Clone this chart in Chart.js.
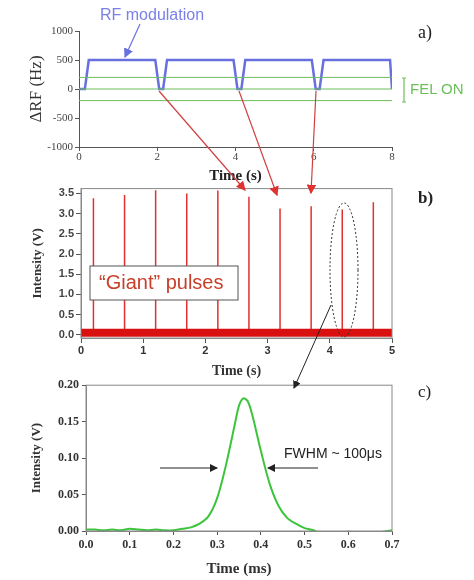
<!DOCTYPE html>
<html><head><meta charset="utf-8">
<script src="https://cdn.jsdelivr.net/npm/chart.js@4"></script>
<style>
body{margin:0;background:#fff;width:474px;height:580px;position:relative;overflow:hidden}
.c{position:absolute;left:0;width:474px}
.t{position:absolute;white-space:nowrap}
svg{position:absolute;left:0;top:0}
</style></head><body>
<div class="c" style="top:0;height:185px"><canvas id="ca"></canvas></div>
<div class="c" style="top:180px;height:200px"><canvas id="cb"></canvas></div>
<div class="c" style="top:375px;height:205px"><canvas id="cc"></canvas></div>
<script>
// Panel a
const rfTime=[0,0.15,0.25,1.95,2.05,2.15,2.25,3.95,4.05,4.15,4.25,5.95,6.05,6.15,6.25,7.95,8];
const rfValue=[0,0,500,500,0,0,500,500,0,0,500,500,0,0,500,500,0];
const felLevels=[200,0,-200];
const aTicks=[-1000,-500,0,500,1000];
// Panel b
const pulseTimes=[0.2,0.7,1.2,1.7,2.2,2.7,3.2,3.7,4.2,4.7];
const pulseHeights=[3.38,3.46,3.58,3.5,3.57,3.42,3.13,3.18,3.1,3.28];
const noiseBand=[0.05,0.05];
const bTicks=[0,0.5,1,1.5,2,2.5,3,3.5];
// Panel c
const cTime=[0,0.02,0.04,0.06,0.08,0.1,0.12,0.14,0.16,0.18,0.2,0.22,0.24,0.26,0.28,0.3,0.32,0.34,0.35,0.36,0.37,0.38,0.4,0.42,0.44,0.46,0.48,0.5,0.52,0.54,0.56,0.58,0.6,0.62,0.64,0.66,0.68,0.7];
const cIntensity=[0.002,0.002,0.001,0.002,0.001,0.003,0.002,0.001,0.002,0.001,0.001,0.003,0.005,0.01,0.02,0.045,0.09,0.145,0.172,0.182,0.178,0.16,0.11,0.065,0.035,0.018,0.01,0.004,0.001,-0.004,-0.002,-0.002,-0.001,-0.002,-0.003,-0.002,-0.001,0.001];

Chart.defaults.animation=false;
Chart.defaults.plugins.legend.display=false;
Chart.defaults.plugins.tooltip.enabled=false;
Chart.defaults.maintainAspectRatio=false;
const boxPlugin={id:'box',afterDraw(ch){const a=ch.chartArea,c=ch.ctx;c.save();c.strokeStyle='#888';c.lineWidth=1;c.strokeRect(a.left,a.top,a.right-a.left,a.bottom-a.top);c.restore();}};
function fit(w){return s=>{s.width=w;};}
function fitH(h){return s=>{s.height=h;};}
const serif='"Liberation Serif", "DejaVu Serif", serif';
const sans='"Liberation Sans", Arial, sans-serif';

new Chart(document.getElementById('ca'),{type:'scatter',data:{datasets:[
 ...felLevels.map(v=>({data:[{x:0,y:v},{x:8,y:v}],showLine:true,borderColor:'#6cbf5a',borderWidth:1,pointRadius:0})),
 {data:rfTime.map((t,i)=>({x:t,y:rfValue[i]})),showLine:true,borderColor:'#6870e0',borderWidth:2.5,pointRadius:0}
]},options:{layout:{padding:{top:31,right:82,left:26,bottom:0}},
scales:{x:{type:'linear',min:0,max:8,afterFit:fitH(38),ticks:{stepSize:2,color:'#444',font:{family:serif,size:11},padding:0},grid:{drawOnChartArea:false,tickLength:4,color:'#555'},border:{color:'#555'},
 title:{display:true,text:'Time (s)',font:{family:serif,size:15,weight:'bold'},color:'#222',padding:0}},
 y:{min:-1000,max:1000,afterFit:fit(53),afterBuildTicks:s=>{s.ticks=aTicks.map(v=>({value:v}));},ticks:{color:'#444',font:{family:serif,size:11},padding:2,callback:v=>String(v)},grid:{drawOnChartArea:false,tickLength:4,color:'#555'},border:{color:'#555'},
 title:{display:true,text:'ΔRF (Hz)',font:{family:serif,size:17},color:'#333',padding:0}}}}});

const pulseData=[];pulseTimes.forEach((t,i)=>{pulseData.push({x:t,y:0},{x:t,y:pulseHeights[i]},{x:t,y:null});});
new Chart(document.getElementById('cb'),{type:'scatter',data:{datasets:[
 {data:[{x:0,y:noiseBand[0]},{x:5,y:noiseBand[1]}],showLine:true,borderColor:'#d81010',borderWidth:8,pointRadius:0},
 {data:pulseData,showLine:true,spanGaps:false,borderColor:'#e03030',borderWidth:1.5,pointRadius:0}
]},options:{layout:{padding:{top:7,right:82,left:30,bottom:0}},
scales:{x:{type:'linear',min:0,max:5,afterFit:fitH(42),ticks:{stepSize:1,color:'#333',font:{family:sans,size:11,weight:'bold'},padding:1},grid:{drawOnChartArea:false,tickLength:5,color:'#555'},border:{color:'#888'},
 title:{display:true,text:'Time (s)',font:{family:serif,size:14,weight:'bold'},color:'#333',padding:0}},
 y:{min:-0.08,max:3.62,afterFit:fit(51),ticks:{color:'#444',font:{family:sans,size:11,weight:'bold'},padding:2,callback:v=>Number(v).toFixed(1)},afterBuildTicks:s=>{s.ticks=bTicks.map(v=>({value:v}));},grid:{drawOnChartArea:false,tickLength:5,color:'#555'},border:{color:'#888'},
 title:{display:true,text:'Intensity (V)',font:{family:serif,size:13,weight:'bold'},color:'#333',padding:0}}}},plugins:[boxPlugin]});

new Chart(document.getElementById('cc'),{type:'scatter',data:{datasets:[
 {data:cTime.map((t,i)=>({x:t,y:cIntensity[i]})),showLine:true,borderColor:'#3cc43c',borderWidth:2,pointRadius:0,tension:0.3}
]},options:{layout:{padding:{top:10,right:82,left:29,bottom:0}},
scales:{x:{type:'linear',min:0,max:0.7,afterFit:fitH(49),ticks:{stepSize:0.1,color:'#333',font:{family:serif,size:12,weight:'bold'},padding:3,callback:v=>v.toFixed(1)},grid:{drawOnChartArea:false,tickLength:4,color:'#555'},border:{color:'#888'},
 title:{display:true,text:'Time (ms)',font:{family:serif,size:15,weight:'bold'},color:'#333',padding:2}},
 y:{min:0,max:0.2,afterFit:fit(57),ticks:{stepSize:0.05,color:'#333',font:{family:serif,size:12,weight:'bold'},padding:3,callback:v=>v.toFixed(2)},grid:{drawOnChartArea:false,tickLength:4,color:'#555'},border:{color:'#888'},
 title:{display:true,text:'Intensity (V)',font:{family:serif,size:13,weight:'bold'},color:'#333',padding:0}}}},plugins:[boxPlugin]});
</script>
<svg width="474" height="580">
<defs>
<marker id="ar" markerWidth="8" markerHeight="8" refX="7" refY="4" orient="auto"><path d="M0,0 L8,4 L0,8 z" fill="#e03030"/></marker>
<marker id="ab" markerWidth="8" markerHeight="8" refX="7" refY="4" orient="auto"><path d="M0,0 L8,4 L0,8 z" fill="#6870e0"/></marker>
<marker id="ak" markerWidth="8" markerHeight="8" refX="7" refY="4" orient="auto"><path d="M0,0 L8,4 L0,8 z" fill="#222"/></marker>
</defs>
<line x1="140" y1="24" x2="125" y2="57" stroke="#6870e0" stroke-width="1.2" marker-end="url(#ab)"/>
<line x1="159" y1="91" x2="245" y2="190" stroke="#d04040" stroke-width="1.2" marker-end="url(#ar)"/>
<line x1="239" y1="91" x2="277" y2="195" stroke="#d04040" stroke-width="1.2" marker-end="url(#ar)"/>
<line x1="316" y1="91" x2="311" y2="193" stroke="#d04040" stroke-width="1.2" marker-end="url(#ar)"/>
<path d="M402,78 L406,78 M404,78 L404,102 M402,102 L406,102" stroke="#6cbf5a" stroke-width="1.2" fill="none"/>
<ellipse cx="344" cy="270" rx="14" ry="67" stroke="#333" stroke-dasharray="2,2" fill="none"/>
<line x1="331" y1="305" x2="294" y2="388" stroke="#222" stroke-width="1" marker-end="url(#ak)"/>
<rect x="90" y="266" width="148" height="34" fill="#fff" stroke="#555"/>
<line x1="160" y1="468" x2="217" y2="468" stroke="#222" stroke-width="1" marker-end="url(#ak)"/>
<line x1="318" y1="468" x2="268" y2="468" stroke="#222" stroke-width="1" marker-end="url(#ak)"/>
</svg>
<div class="t" style="left:100px;top:6px;font:16px 'Liberation Sans',sans-serif;color:#7a80e8">RF modulation</div>
<div class="t" style="left:410px;top:80px;font:15px 'Liberation Sans',sans-serif;color:#6cbf5a">FEL ON</div>
<div class="t" style="left:418px;top:22px;font:18px 'Liberation Serif',serif;color:#222">a)</div>
<div class="t" style="left:418px;top:188px;font:bold 17px 'Liberation Serif',serif;color:#222">b)</div>
<div class="t" style="left:418px;top:382px;font:17px 'Liberation Serif',serif;color:#222">c)</div>
<div class="t" style="left:99px;top:271px;font:20px 'Liberation Sans',sans-serif;color:#c8402a">“Giant” pulses</div>
<div class="t" style="left:284px;top:445px;font:14px 'Liberation Sans',sans-serif;color:#222">FWHM ~ 100μs</div>
</body></html>
